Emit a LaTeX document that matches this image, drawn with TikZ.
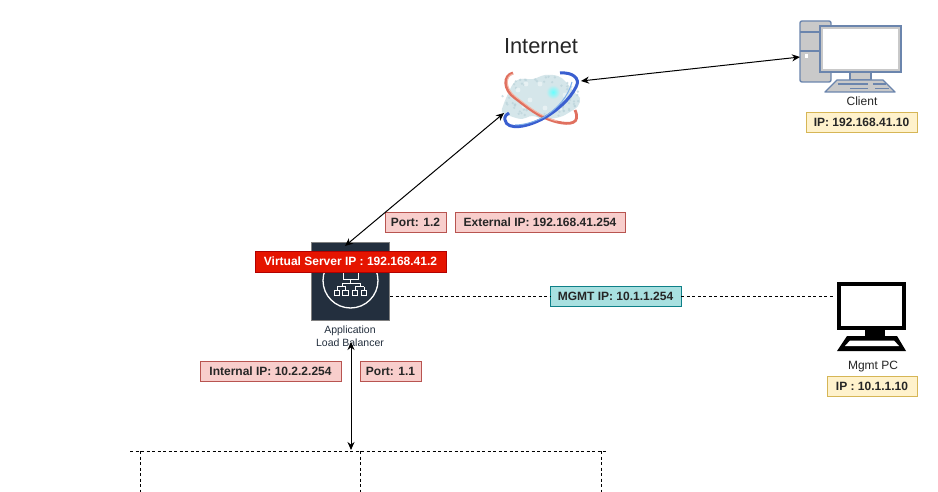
\documentclass[tikz,border=0pt]{standalone}
\usepackage{xcolor}
\usepackage{fontspec}
\setmainfont{Liberation Sans}
\usetikzlibrary{positioning,arrows.meta}

\definecolor{tagred}{HTML}{F8CECC}
\definecolor{tagredline}{HTML}{B85450}
\definecolor{tagyellow}{HTML}{FFF2CC}
\definecolor{tagyellowline}{HTML}{D6B656}
\definecolor{tagcyan}{HTML}{A8E0E0}
\definecolor{tagcyanline}{HTML}{0E8088}
\definecolor{vipred}{HTML}{E51400}
\definecolor{vipredline}{HTML}{B20000}
\definecolor{elbdark}{HTML}{232F3E}
\definecolor{pcline}{HTML}{6B85AD}
\definecolor{pcgrey}{HTML}{C9C9C9}
\definecolor{cloudbase}{HTML}{D5E6EA}
\definecolor{clouddark}{HTML}{BAD3DA}
\definecolor{ringred}{HTML}{E0705F}
\definecolor{ringredlight}{HTML}{F4B8A8}
\definecolor{ringblue}{HTML}{3A5FD0}
\definecolor{ringbluelight}{HTML}{7FB0EA}

\tikzset{
  tag/.style={draw, line width=0.7pt, inner sep=0pt, minimum height=20pt, font=\fontsize{12}{14}\selectfont\bfseries, text=black!85},
  redtag/.style={tag, fill=tagred, draw=tagredline},
  yellowtag/.style={tag, fill=tagyellow, draw=tagyellowline},
  cyantag/.style={tag, fill=tagcyan, draw=tagcyanline},
  viptag/.style={tag, fill=vipred, draw=vipredline, text=white, minimum height=21pt},
  caption/.style={inner sep=0pt, font=\fontsize{12}{14}\selectfont, text=black!85},
  link/.style={black, line width=1pt, {Stealth[length=8pt,width=7pt]}-{Stealth[length=8pt,width=7pt]}},
  dashline/.style={black, line width=0.8pt, dash pattern=on 3pt off 2.5pt},
}

\begin{document}
\begin{tikzpicture}[x=1pt, y=-1pt]
\useasboundingbox (0,0) rectangle (938,492);
\fill[white] (0,0) rectangle (938,492);

% internet cloud
\node[font=\fontsize{21.8}{26}\selectfont, text=black!85, inner sep=0pt] (internet_label) at (541,46) {Internet};
\fill[cloudbase] plot[smooth cycle, tension=0.6] coordinates {
  (503,106) (507,96) (513,84) (520,79) (533,79) (545,75) (558,76) (566,82)
  (574,92) (580,98) (578,106) (570,112) (560,117) (546,119) (532,116) (522,119) (510,116) (502,112)};
\pgfmathsetseed{7}
\foreach \i in {1,...,60} {
  \pgfmathsetmacro{\pa}{rnd*360}
  \pgfmathsetmacro{\pr}{0.75+rnd*0.3}
  \fill[clouddark, opacity=0.7] ({541+37*\pr*cos(\pa)},{97+20*\pr*sin(\pa)}) circle (1.3pt);
}
\foreach \px/\py in {518/90,530/100,540/84,524/106,560/108,545/108,526/84,565/95} {
  \fill[white, opacity=0.45] (\px,\py) circle (2.4pt);
}
\shade[inner color=cyan!60, outer color=cloudbase] (553,92) circle (7pt);
\draw[ringred, line width=2.8pt] (513,73) .. controls (503,75) and (503,90) .. (515,98) .. controls (527,107) and (538,117) .. (557,122) .. controls (570,125) and (581,124) .. (575,110);
\draw[ringredlight, line width=1pt] (513,74) .. controls (505,76) and (505,89) .. (516,97) .. controls (528,106) and (539,116) .. (557,121);
\draw[ringblue, line width=3pt] (560,73) .. controls (572,72) and (581,78) .. (576,87) .. controls (570,99) and (558,110) .. (544,118) .. controls (528,127) and (507,131) .. (505,120) .. controls (504,116) and (507,114) .. (509,113);
\draw[ringbluelight, line width=1pt] (572,82) .. controls (568,97) and (558,108) .. (544,117) .. controls (534,122) and (524,125) .. (515,125);
\coordinate (internet_sw) at (504,113);
\coordinate (internet_e) at (581,81);

% client
\draw[pcline, fill=pcgrey, line width=1.4pt, rounded corners=2pt] (800,21) rectangle (831,82);
\draw[pcline, line width=1.4pt] (800,32) -- (831,32) (800,51) -- (831,51);
\fill[white] (804.5,54.5) rectangle (807.5,58);
\draw[pcline, fill=pcgrey, line width=1.4pt] (850,72) rectangle (871,80);
\draw[pcline, fill=pcgrey, line width=1.4pt, line join=round] (837,80) -- (883,80) -- (895,92) -- (825,92) -- cycle;
\draw[pcline, line width=1.2pt] (838,84) -- (868,84) (873,84) -- (886,84) (850,88.5) -- (868,88.5) (875,88.5) -- (889,88.5);
\draw[pcline, fill=white, line width=1.4pt] (820,26) rectangle (901,72);
\draw[pcgrey, line width=1.2pt] (822,28) rectangle (899,70);
\coordinate (client_w) at (800,57);
\node[caption] (client) at (862,101.5) {Client};
\node[yellowtag, minimum width=111pt] (client_ip) at (861.5,122) {IP: 192.168.41.10};

% load balancer
\node[draw=gray, fill=elbdark, line width=0.5pt, minimum size=78pt, inner sep=0pt] (elb) at (350,281) {};
\draw[white, line width=1.3pt] (350.5,280.5) circle (27.5pt);
\draw[white, line width=1pt] (343,272) rectangle (358,279);
\draw[white, line width=1pt] (350.5,279) -- (350.5,283) (342,283) -- (360,283) (342,283) -- (342,286.5) (360,283) -- (360,286.5) (337,286.5) -- (345.5,286.5) (355,286.5) -- (364,286.5);
\foreach \bx in {337,345.5,355,364} {
  \draw[white, line width=1pt] (\bx,286.5) -- (\bx,290);
  \draw[white, line width=1pt] (\bx-2.7,290) rectangle (\bx+2.7,295.7);
}
\node[viptag, minimum width=191pt] (vip) at (350.5,261.5) {Virtual Server IP : 192.168.41.2};
\node[font=\fontsize{10.5}{13}\selectfont, text=elbdark, align=center, inner sep=0pt] (elb_text) at (350,336) {Application\\Load Balancer};

% tags
\node[redtag, minimum width=61pt] (port_ext) at (415.5,222) {Port: 1.2};
\node[redtag, minimum width=170pt] (ext_ip) at (540,222) {External IP: 192.168.41.254};
\node[cyantag, minimum width=131pt] (mgmt_ip) at (615.5,296) {MGMT IP: 10.1.1.254};
\node[redtag, minimum width=141pt] (int_ip) at (270.5,371) {Internal IP: 10.2.2.254};
\node[redtag, minimum width=61pt] (port_int) at (390.5,371) {Port: 1.1};

% mgmt pc
\draw[black, fill=white, line width=4.5pt] (839,284) rectangle (904,328);
\fill[black] (865,330) rectangle (885,336);
\fill[black] (847,336) -- (897,336) -- (906,351) -- (837,351) -- cycle;
\fill[white] (850,340.5) -- (894,340.5) -- (899,346) -- (845,346) -- cycle;
\coordinate (mgmt_pc_w) at (835,296);
\node[caption] (mgmt_text) at (873,366.5) {Mgmt PC};
\node[yellowtag, minimum width=90pt] (mgmt_pc_ip) at (872,386) {IP : 10.1.1.10};

% bus at the bottom
\coordinate (bus_l) at (130,451);
\coordinate (bus_r) at (608,451);
\coordinate (drop_a) at (140,451);
\coordinate (drop_b) at (360,451);
\coordinate (drop_c) at (601,451);
\coordinate (drop_a_end) at (140,492);
\coordinate (drop_b_end) at (360,492);
\coordinate (drop_c_end) at (601,492);
\coordinate (bus_top) at (351,450);
\coordinate (elb_low) at (351,342);
\coordinate (elb_top) at (345,246);
\coordinate (elb_e) at (390,296);

\draw[link] (internet_e) -- (client_w);
\draw[link] (internet_sw) -- (elb_top);
\draw[link] (elb_low) -- (bus_top);
\draw[dashline] (elb_e) -- (mgmt_ip);
\draw[dashline] (mgmt_ip) -- (mgmt_pc_w);
\draw[dashline] (bus_l) -- (bus_r);
\draw[dashline] (drop_a) -- (drop_a_end);
\draw[dashline] (drop_b) -- (drop_b_end);
\draw[dashline] (drop_c) -- (drop_c_end);
\end{tikzpicture}
\end{document}
